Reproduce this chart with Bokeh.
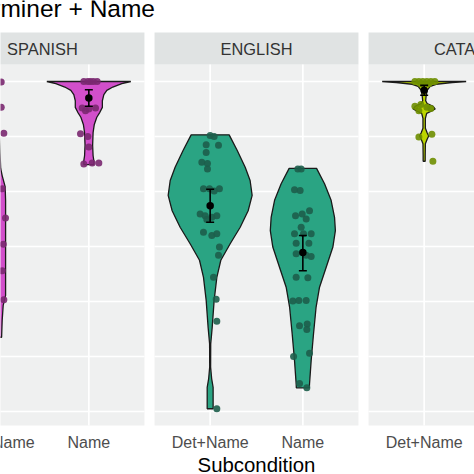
from bokeh.plotting import figure
from bokeh.models import Range1d
from bokeh.core.properties import value
from bokeh.embed import file_html
from bokeh.resources import INLINE

# facets and x categories
languages = ["SPANISH", "ENGLISH", "CATALAN"]
subconditions = ["Det+Name", "Name"]
grid_levels = [0.4, 0.5, 0.6, 0.7, 0.8, 0.9, 1.0]

# violin outlines (score level, half width in category units)
spa_det_lvl = [1.0, 0.911, 0.842, 0.829, 0.809, 0.784, 0.693, 0.611, 0.593, 0.565, 0.535]
spa_det_hw = [0.022, 0.032, 0.049, 0.065, 0.097, 0.102, 0.102, 0.102, 0.076, 0.065, 0.059]
spa_name_lvl = [1.0, 0.996, 0.990, 0.984, 0.976, 0.965, 0.953, 0.944, 0.935, 0.922,
                0.907, 0.884, 0.865, 0.856, 0.849]
spa_name_hw = [0.453, 0.356, 0.259, 0.194, 0.162, 0.146, 0.146, 0.119, 0.086, 0.059,
               0.046, 0.041, 0.046, 0.054, 0.054]
eng_det_lvl = [0.903, 0.875, 0.844, 0.82, 0.793, 0.765, 0.735, 0.705, 0.675, 0.644,
               0.602, 0.553, 0.523, 0.481, 0.46, 0.444, 0.42, 0.405]
eng_det_hw = [0.205, 0.291, 0.378, 0.431, 0.453, 0.41, 0.324, 0.216, 0.115, 0.072,
              0.043, 0.022, 0.006, 0.005, 0.016, 0.032, 0.032, 0.032]
eng_name_lvl = [0.842, 0.814, 0.784, 0.753, 0.729, 0.699, 0.662, 0.626, 0.590, 0.541,
                0.493, 0.450, 0.443]
eng_name_hw = [0.148, 0.234, 0.305, 0.342, 0.351, 0.324, 0.251, 0.18, 0.143, 0.115,
               0.09, 0.072, 0.07]
cat_det_lvl = [1.0, 0.998, 0.995, 0.991, 0.984, 0.975, 0.965, 0.96, 0.955, 0.95,
               0.946, 0.942, 0.933, 0.915, 0.907, 0.901, 0.895, 0.887, 0.865, 0.855]
cat_det_hw = [0.453, 0.302, 0.129, 0.065, 0.032, 0.022, 0.016, 0.032, 0.097, 0.119,
              0.076, 0.027, 0.013, 0.013, 0.032, 0.049, 0.032, 0.013, 0.011, 0.011]

# participant scores and their horizontal jitter
spa_det_pts = [0.999, 0.953, 0.906, 0.805, 0.752, 0.704, 0.656, 0.603]
spa_det_jit = [0.055, 0.055, 0.083, 0.066, 0.101, 0.077, 0.066, 0.083]
spa_name_pts = [1.0, 1.0, 1.0, 1.0, 1.0, 0.952, 0.950, 0.952, 0.947, 0.905,
                0.900, 0.881, 0.850, 0.852, 0.852]
spa_name_jit = [-0.054, 0.018, 0.09, -0.011, 0.05, -0.072, 0.0, 0.072, -0.036, -0.09,
                -0.011, 0.0, -0.054, 0.036, 0.108]
eng_det_pts = [0.902, 0.900, 0.885, 0.884, 0.871, 0.853, 0.851, 0.841, 0.805, 0.805,
               0.805, 0.801, 0.759, 0.756, 0.753, 0.756, 0.749, 0.726, 0.720, 0.723,
               0.699, 0.684, 0.644, 0.604, 0.564, 0.405]
eng_det_jit = [0.0, 0.043, -0.043, 0.09, -0.043, -0.09, -0.029, -0.029, -0.072, -0.007,
               0.1, 0.043, -0.108, -0.054, 0.018, 0.072, -0.036, -0.072, 0.018, 0.072,
               0.1, 0.09, 0.036, 0.065, 0.072, 0.072]
eng_name_pts = [0.841, 0.841, 0.803, 0.802, 0.756, 0.759, 0.765, 0.750, 0.735, 0.723,
                0.723, 0.723, 0.706, 0.706, 0.687, 0.684, 0.682, 0.644, 0.643, 0.601,
                0.602, 0.602, 0.556, 0.559, 0.549, 0.500, 0.506, 0.451, 0.443]
eng_name_jit = [-0.054, -0.018, -0.09, -0.029, -0.079, -0.007, 0.072, 0.036, -0.018, -0.09,
                0.007, 0.09, -0.072, 0.065, -0.072, 0.036, 0.09, -0.072, 0.054, -0.108,
                -0.043, 0.036, -0.036, 0.047, 0.043, -0.1, 0.072, -0.036, 0.043]
cat_det_pts = [1.0, 1.0, 1.0, 1.0, 1.0, 1.0, 0.996, 0.996, 0.955, 0.958,
               0.953, 0.947, 0.951, 0.899, 0.904, 0.855]
cat_det_jit = [-0.1, -0.057, -0.014, 0.029, 0.072, 0.115, -0.036, 0.05, -0.1, -0.036,
               0.029, -0.057, 0.072, -0.057, 0.083, 0.094]

# mean and standard error bars (visible groups)
spa_name_mean, spa_name_lo, spa_name_hi = 0.970, 0.955, 0.985
eng_det_mean, eng_det_lo, eng_det_hi = 0.774, 0.744, 0.804
eng_name_mean, eng_name_lo, eng_name_hi = 0.689, 0.656, 0.720
cat_det_mean, cat_det_lo, cat_det_hi = 0.984, 0.975, 0.993

fills = {"SPANISH": "#D24FCB", "ENGLISH": "#2AA483", "CATALAN": "#BDD600"}
dots = {"SPANISH": "#7A2870", "ENGLISH": "#1D5E4B", "CATALAN": "#6E8E00"}

groups = [
    ("SPANISH", 0, spa_det_lvl, spa_det_hw, spa_det_pts, spa_det_jit, None),
    ("SPANISH", 1, spa_name_lvl, spa_name_hw, spa_name_pts, spa_name_jit,
     (spa_name_mean, spa_name_lo, spa_name_hi)),
    ("ENGLISH", 0, eng_det_lvl, eng_det_hw, eng_det_pts, eng_det_jit,
     (eng_det_mean, eng_det_lo, eng_det_hi)),
    ("ENGLISH", 1, eng_name_lvl, eng_name_hw, eng_name_pts, eng_name_jit,
     (eng_name_mean, eng_name_lo, eng_name_hi)),
    ("CATALAN", 0, cat_det_lvl, cat_det_hw, cat_det_pts, cat_det_jit,
     (cat_det_mean, cat_det_lo, cat_det_hi)),
]

# facet geometry in category units / score units
PANEL_W, GAP, EXPAND = 2.2, 0.109, 0.6
P_BOT, P_TOP, S_TOP = 0.3745, 1.031, 1.089
SIZE = 474


def panel_left(k):
    return k * (PANEL_W + GAP)


def cat_x(lang, j):
    return panel_left(languages.index(lang)) + EXPAND + j


p = figure(width=SIZE, height=SIZE, x_range=Range1d(0.647, 5.761),
           y_range=Range1d(0.2855, 1.1473), x_axis_location=None, y_axis_location=None,
           toolbar_location=None, output_backend="svg", min_border=0,
           outline_line_color=None, background_fill_color="white")
p.grid.visible = False

font = value("Liberation Sans")
lefts = [panel_left(k) for k in range(len(languages))]
rights = [l + PANEL_W for l in lefts]
p.quad(left=lefts, right=rights, bottom=P_BOT, top=P_TOP, fill_color="#EFF0F0", line_color=None)
p.quad(left=lefts, right=rights, bottom=P_TOP, top=S_TOP, fill_color="#E0E3E3", line_color=None)

# grid lines
gx0, gx1, gy = [], [], []
for l, r in zip(lefts, rights):
    for g in grid_levels:
        gx0.append(l)
        gx1.append(r)
        gy.append(g)
p.segment(x0=gx0, y0=gy, x1=gx1, y1=gy, line_color="white", line_width=1.7)
vx = [cat_x(lang, j) for lang in languages for j in range(len(subconditions))]
p.segment(x0=vx, y0=P_BOT, x1=vx, y1=P_TOP, line_color="white", line_width=1.7)

for lang, j, lvl, hw, pts, jit, stats in groups:
    c = cat_x(lang, j)
    xs = [c + w for w in hw] + [c - w for w in reversed(hw)]
    ys = list(lvl) + list(reversed(lvl))
    p.patch(xs, ys, fill_color=fills[lang], line_color="#1A1A1A", line_width=1.3)
    p.scatter([c + d for d in jit], pts, size=7, fill_color=dots[lang],
              line_color=None, fill_alpha=0.9)
    if stats:
        m, lo, hi = stats
        p.segment(x0=[c, c - 0.043, c - 0.043], y0=[lo, lo, hi],
                  x1=[c, c + 0.043, c + 0.043], y1=[hi, lo, hi],
                  line_color="black", line_width=1.6)
        p.scatter([c], [m], size=7.5, fill_color="black", line_color=None)

# strip labels, tick labels, titles
p.text([l + PANEL_W / 2 for l in lefts], 1.06, text=languages, text_font=font,
       text_font_size="16.4px", text_align="center", text_baseline="middle",
       text_color="#333333")
p.text(vx, 0.3429, text=subconditions * len(languages), text_font=font,
       text_font_size="16px", text_align="center", text_baseline="middle",
       text_color="#4D4D4D")
p.text([(lefts[0] + rights[-1]) / 2], [0.302], text=["Subcondition"], text_font=font,
       text_font_size="20.4px", text_align="center", text_baseline="middle",
       text_color="black")
p.text([lefts[0]], [1.132], text=["Determiner + Name"], text_font=font,
       text_font_size="24.5px", text_align="left", text_baseline="middle",
       text_color="black")

open("out.html", "w").write(file_html(p, INLINE))
